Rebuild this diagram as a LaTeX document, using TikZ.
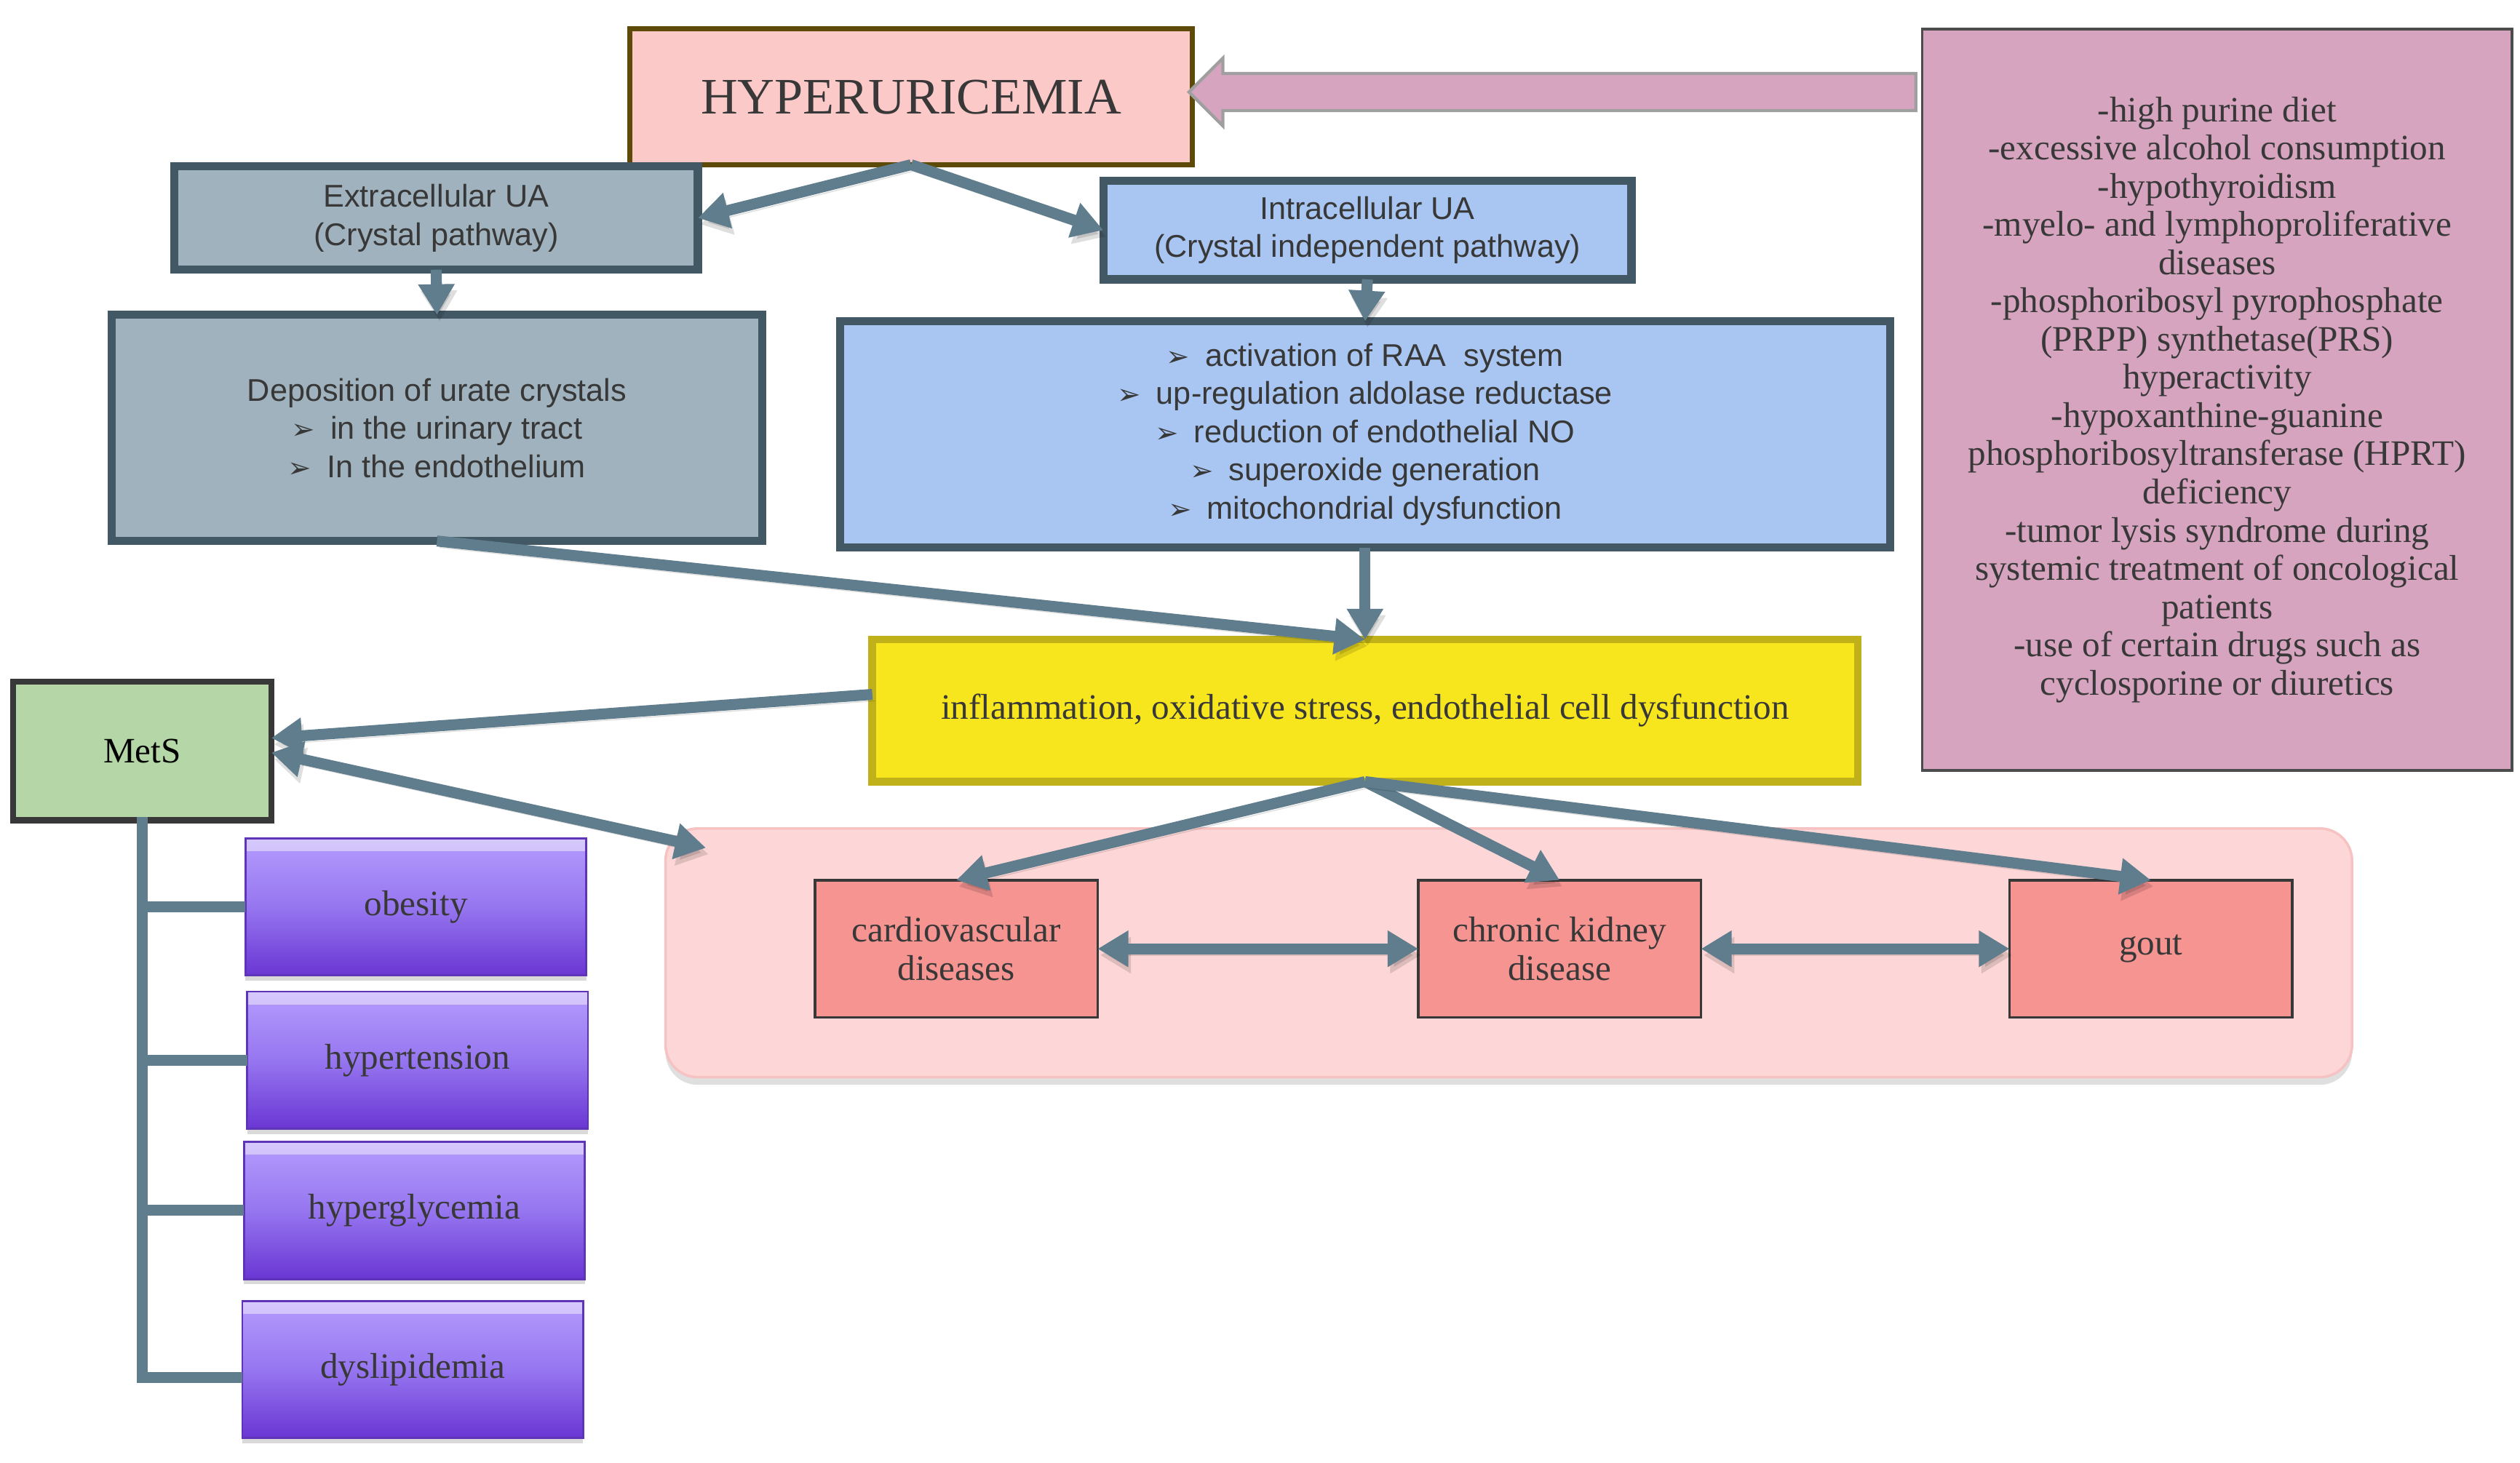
\documentclass[tikz,border=0pt]{standalone}
\usepackage{fontspec}
\setmainfont{Liberation Serif}
\setsansfont{Liberation Sans}
\newfontfamily\dejavu{DejaVu Sans}
\usetikzlibrary{arrows.meta,calc,shadows}

\definecolor{arr}{HTML}{5F7D8C}
\definecolor{slate}{HTML}{435865}
\definecolor{greyblue}{HTML}{9FB2BD}
\definecolor{lblue}{HTML}{A8C6F1}
\definecolor{ylw}{HTML}{F7E51D}
\definecolor{ylwb}{HTML}{C0B11A}
\definecolor{hpink}{HTML}{FCC9C9}
\definecolor{hborder}{HTML}{5E4A08}
\definecolor{mauve}{HTML}{D6A4BE}
\definecolor{mgreen}{HTML}{B5D6A6}
\definecolor{salmon}{HTML}{F59491}
\definecolor{contfill}{HTML}{FDD7D7}
\definecolor{contdraw}{HTML}{F6C2C2}
\definecolor{txt}{HTML}{383838}
\definecolor{ptop}{HTML}{B49CFD}
\definecolor{pmid}{HTML}{9676F0}
\definecolor{pbot}{HTML}{6A36D3}
\definecolor{pdraw}{HTML}{5E34B8}

\newcommand{\bul}{{\dejavu\fontsize{11}{11}\selectfont ➢}\hspace{6pt}}

\begin{document}
\begin{tikzpicture}[x=0.0222cm, y=-0.0222cm,
  sz/.style 2 args={minimum width=#1*0.0222cm, minimum height=#2*0.0222cm},
  box/.style={rectangle, inner sep=2pt, outer sep=0pt, align=center, text=txt},
  serif/.style={font=\fontsize{14}{14.95}\selectfont},
  sans/.style={font=\sffamily\fontsize{12.3}{14.9}\selectfont},
  slatebox/.style={box, sans, draw=slate, line width=3.2pt},
  redbox/.style={box, serif, fill=salmon, draw=txt, line width=1pt, sz={175}{85}},
  purplebox/.style={box, serif, sz={211}{85}, top color=ptop, bottom color=pbot, middle color=pmid,
     draw=pdraw, line width=0.8pt, drop shadow={shadow xshift=0pt, shadow yshift=-2pt, opacity=0.3},
     path picture={\fill[white, opacity=0.45] (path picture bounding box.north west) rectangle
        ([yshift=-5pt]path picture bounding box.north east);}},
  shadowed/.style={preaction={draw=black, opacity=0.13, transform canvas={shift={(1pt,-2.5pt)}}}},
  conn/.style={shadowed, draw=arr, line width=4.3pt, -{Triangle[length=12pt,width=13.5pt]}},
  dconn/.style={shadowed, draw=arr, line width=4.3pt, {Triangle[length=12pt,width=13.5pt]}-{Triangle[length=12pt,width=13.5pt]}},
  branch/.style={draw=arr, line width=4.3pt},
  bigarrow/.style={fill=mauve, draw=gray!75, line width=1.2pt}
]
\useasboundingbox (0,0) rectangle (1560,905.9);

% pink container
\node[box, sz={1044}{154}, rounded corners=12.6pt, fill=contfill, draw=contdraw, line width=1pt,
      drop shadow={shadow xshift=0pt, shadow yshift=-3pt, opacity=0.25}] (cont) at (934,590) {};

% main nodes
\node[box, sz={348}{84}, fill=hpink, draw=hborder, line width=2pt,
      font=\fontsize{20}{22}\selectfont] (hyper) at (564,60) {HYPERURICEMIA};
\node[slatebox, fill=greyblue, sz={324}{64}] (ext) at (270,135) {Extracellular UA\\(Crystal pathway)};
\node[slatebox, fill=lblue, sz={327}{61}] (intra) at (846.5,142.5) {Intracellular UA\\(Crystal independent pathway)};
\node[slatebox, fill=greyblue, sz={403}{140}] (depo) at (270.5,265)
  {Deposition of urate crystals\\\bul in the urinary tract\\\bul In the endothelium};
\node[slatebox, fill=lblue, sz={650}{140}] (blue) at (845,269)
  {\bul activation of RAA\ \ system\\\bul up-regulation aldolase reductase\\\bul reduction of endothelial NO\\\bul superoxide generation\\\bul mitochondrial dysfunction};
\node[box, serif, fill=ylw, draw=ylwb, line width=3pt, sz={610}{88}] (yellow) at (845,440)
  {inflammation, oxidative stress, endothelial cell dysfunction};
\node[box, serif, fill=mauve, draw=txt!90, line width=1pt, sz={365}{459}] (causes) at (1372.5,247.5)
  {-high purine diet\\-excessive alcohol consumption\\-hypothyroidism\\-myelo- and lymphoproliferative\\diseases\\-phosphoribosyl pyrophosphate\\(PRPP) synthetase(PRS)\\hyperactivity\\-hypoxanthine-guanine\\phosphoribosyltransferase (HPRT)\\deficiency\\-tumor lysis syndrome during\\systemic treatment of oncological\\patients\\-use of certain drugs such as\\cyclosporine or diuretics};
\node[box, serif, fill=mgreen, draw=txt, line width=2.4pt, sz={160}{86}, text=black] (mets) at (88,465) {MetS};

\node[redbox] (cvd) at (592,587.5) {cardiovascular\\diseases};
\node[redbox] (ckd) at (965.5,587.5) {chronic kidney\\disease};
\node[redbox] (gout) at (1331.5,587.5) {gout};

\node[purplebox] (obes) at (257.5,561.5) {obesity};
\node[purplebox] (hten) at (258.5,656.5) {hypertension};
\node[purplebox] (hgly) at (256.5,749.5) {hyperglycemia};
\node[purplebox] (dysl) at (255.5,848) {dyslipidemia};

% branches of MetS
\draw[branch] (mets.south) |- (obes.west);
\draw[branch] (mets.south) |- (hten.west);
\draw[branch] (mets.south) |- (hgly.west);
\draw[branch] ($(mets.south)+(0,-2)$) |- ($(dysl.west)+(0,5)$);

% big block arrow from causes to hyperuricemia
\coordinate (tip) at ($(hyper.east)+(-2,-3)$);
\coordinate (tail) at ($(causes.west |- tip)+(-4,0)$);
\draw[bigarrow] (tip) -- ($(tip)+(21,-21)$) -- ($(tip)+(21,-11.5)$) -- ($(tail)+(0,-11.5)$)
   -- ($(tail)+(0,11.5)$) -- ($(tip)+(21,11.5)$) -- ($(tip)+(21,21)$) -- cycle;

% connectors
\draw[conn] (hyper.south) -- (ext.east);
\draw[conn] (hyper.south) -- (intra.west);
\draw[conn] (ext.south) -- (depo.north);
\draw[conn] (intra.south) -- (blue.north);
\draw[conn] (depo.south) -- (yellow.north);
\draw[conn] (blue.south) -- (yellow.north);
\draw[conn] ($(yellow.west)+(0,-10)$) -- ($(mets.east)+(0,-8)$);
\draw[dconn] ($(mets.east)+(0,1)$) -- ($(cont.north west)+(25,12)$);
\draw[conn] (yellow.south) -- (cvd.north);
\draw[conn] (yellow.south) -- (ckd.north);
\draw[conn] (yellow.south) -- (gout.north);
\draw[dconn] (cvd.east) -- (ckd.west);
\draw[dconn] (ckd.east) -- (gout.west);
\end{tikzpicture}
\end{document}
